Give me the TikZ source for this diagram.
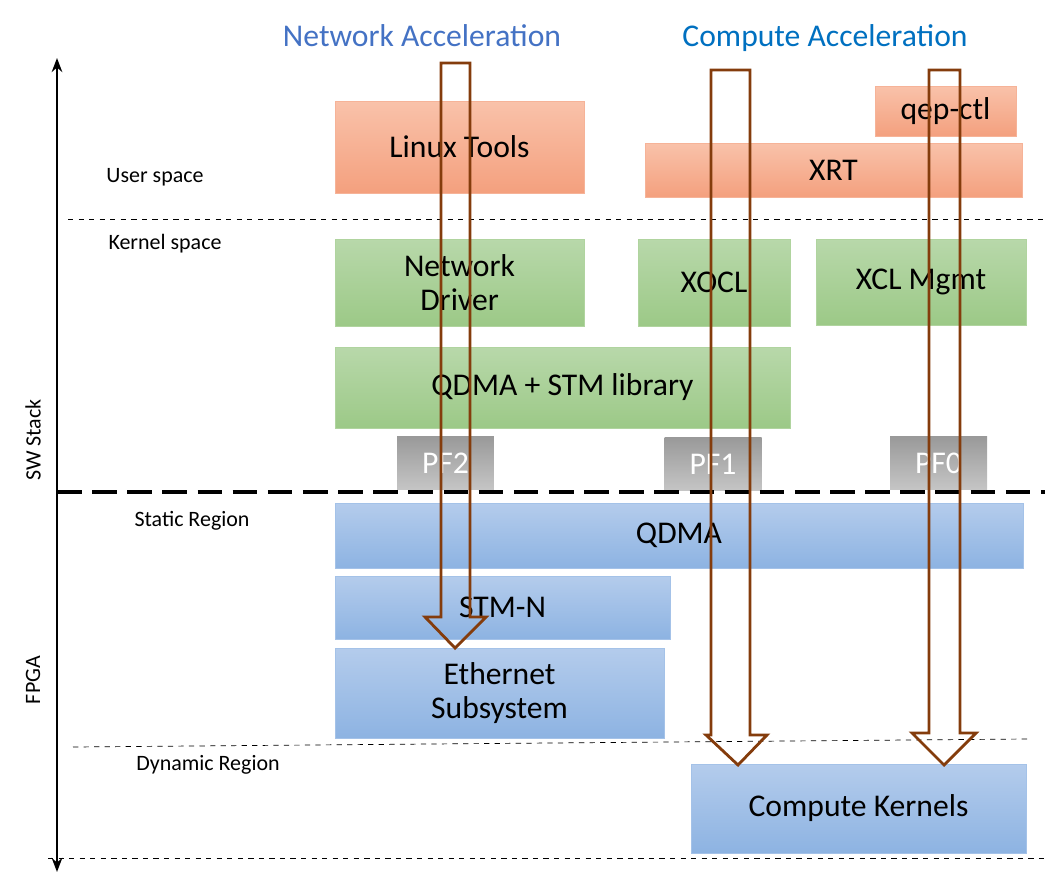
\documentclass[tikz,border=0pt]{standalone}
\usepackage{fontspec}
\setmainfont{Carlito}
\usetikzlibrary{arrows.meta}
\definecolor{orgtop}{HTML}{F9C2AA}
\definecolor{orgbot}{HTML}{F4A07E}
\definecolor{grntop}{HTML}{B8D8AA}
\definecolor{grnbot}{HTML}{9CC987}
\definecolor{blutop}{HTML}{B4CCEC}
\definecolor{blubot}{HTML}{8DB3E2}
\definecolor{brownarrow}{HTML}{843C0C}
\definecolor{nettitle}{HTML}{4472C4}
\definecolor{comptitle}{HTML}{0070C0}
\tikzset{
  box/.style={inner sep=0pt, align=center, font=\fontsize{18}{19}\selectfont},
  obox/.style={box, shade, top color=orgtop, bottom color=orgbot, draw=orgbot!80!white},
  gbox/.style={box, shade, top color=grntop, bottom color=grnbot, draw=grnbot!80!white},
  bbox/.style={box, shade, top color=blutop, bottom color=blubot, draw=blubot!80!white},
  pfbox/.style={box, shade, top color=gray!80, bottom color=gray!45, text=white,
    minimum width=1.94cm, minimum height=1.08cm},
  region/.style={font=\fontsize{12.5}{13}\selectfont},
  sep/.style={dashed, thin},
  hollow/.style={draw=brownarrow, line width=1.6pt, line join=miter}
}
\begin{document}
\begin{tikzpicture}[x=0.02cm, y=-0.02cm]
  \useasboundingbox (0,0) rectangle (1047,888);
  % Titles
  \node[font=\fontsize{18}{19}\selectfont, text=nettitle] (nettitle) at (422,36) {Network Acceleration};
  \node[font=\fontsize{18}{19}\selectfont, text=comptitle] (comptitle) at (825,38) {Compute Acceleration};

  % User space
  \node[obox, minimum width=4.98cm, minimum height=1.84cm] (linux) at (459.5,147) {Linux Tools};
  \node[obox, minimum width=2.82cm, minimum height=1.0cm] (qep) at (945.5,111) {qep-ctl};
  \node[obox, minimum width=7.54cm, minimum height=1.08cm] (xrt) at (833.5,170) {XRT};

  % Kernel space
  \node[gbox, minimum width=4.98cm, minimum height=1.74cm] (netdrv) at (459.5,282.5) {Network\\Driver};
  \node[gbox, minimum width=3.04cm, minimum height=1.74cm] (xocl) at (714,282.5) {XOCL};
  \node[gbox, minimum width=4.2cm, minimum height=1.72cm] (xclmgmt) at (921,282) {XCL Mgmt};
  \node[gbox, minimum width=9.1cm, minimum height=1.62cm] (qdmalib) at (562.5,387.5) {QDMA + STM library};

  % Physical functions
  \node[pfbox] (pf2) at (445.5,463) {PF2};
  \node[pfbox] (pf1) at (713,464) {PF1};
  \node[pfbox] (pf0) at (938.5,463) {PF0};

  % FPGA
  \node[bbox, minimum width=13.76cm, minimum height=1.3cm] (qdma) at (679,535.5) {QDMA};
  \node[bbox, minimum width=6.7cm, minimum height=1.26cm] (stmn) at (502.5,607.5) {STM-N};
  \node[bbox, minimum width=6.58cm, minimum height=1.8cm] (eth) at (499.5,693) {Ethernet\\Subsystem};
  \node[bbox, minimum width=6.7cm, minimum height=1.78cm] (kernels) at (858.5,808.5) {Compute Kernels};

  % Separators
  \draw[sep] (68,219) -- (1043,219);
  \draw[dashed, line width=2.2pt, dash pattern=on 14pt off 6pt] (57,492) -- (1045,492);
  \draw[sep] (73,747) -- (1027,739);
  \draw[sep] (48,858) -- (1045,858);

  % Region labels
  \node[region] (user) at (155,177) {User space};
  \node[region] (kernel) at (165,244) {Kernel space};
  \node[region] (static) at (192,521) {Static Region};
  \node[region] (dynamic) at (208,765) {Dynamic Region};

  % Side axis
  \coordinate (axtop) at (57,58);
  \coordinate (axbot) at (57,872);
  \draw[line width=1.6pt, {Stealth[length=8pt]}-{Stealth[length=8pt]}] (axtop) -- (axbot);
  \node[region, rotate=90] (swstack) at (33,440) {SW Stack};
  \node[region, rotate=90] (fpga) at (33,680) {FPGA};

  % Hollow arrows
  \foreach \l/\r/\t/\h/\a/\b/\c/\d in {441/470/63/617/425/486/455/648,
                                      711/750/70/735/706/767/738/765,
                                      929/960/70/733/912/976/944/765}
    \draw[hollow] (\l,\t) -- (\r,\t) -- (\r,\h) -- (\b,\h) -- (\c,\d)
      -- (\a,\h) -- (\l,\h) -- cycle;
\end{tikzpicture}
\end{document}
